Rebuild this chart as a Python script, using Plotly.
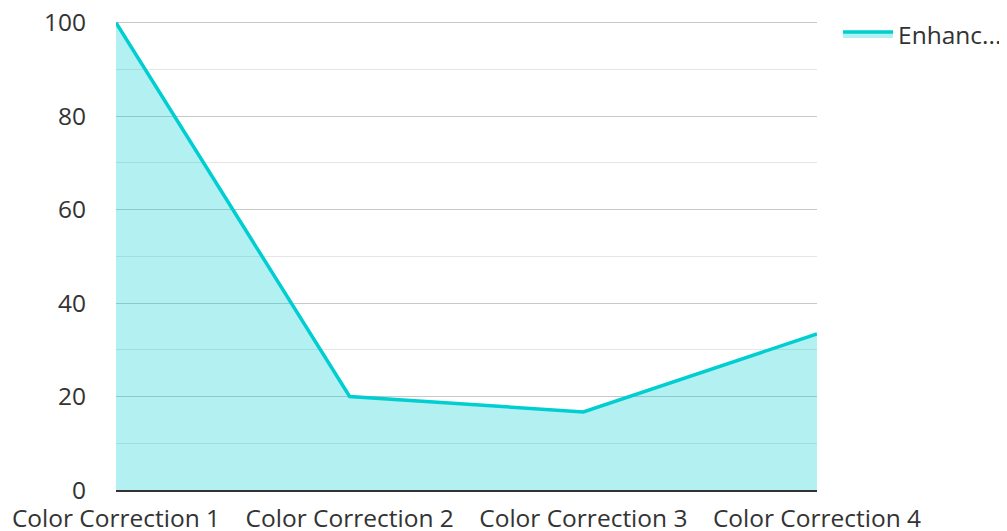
import plotly.graph_objects as go

categories = ["Color Correction 1", "Color Correction 2", "Color Correction 3", "Color Correction 4"]
values = [100, 20, 16.7, 33.4]
series_name = "Enhanc..."

fig = go.Figure()
fig.add_trace(go.Scatter(
    x=categories, y=values, name=series_name, mode="lines",
    line=dict(color="#00CED1", width=3.5),
    fill="tozeroy", fillcolor="rgba(0,206,209,0.3)",
    showlegend=True,
    cliponaxis=False,
))

fig.update_layout(
    width=999, height=523,
    margin=dict(l=108, r=190, t=13.4, b=41, autoexpand=False),
    paper_bgcolor="white", plot_bgcolor="white",
    font=dict(family="Open Sans", size=24.5, color="#333333"),
    showlegend=True,
    legend=dict(x=1.03, y=1.02, xanchor="left", yanchor="top",
                font=dict(size=24.5, color="#333333"), itemwidth=50),
    xaxis=dict(
        type="category", range=[0, 3], showgrid=False, automargin=False,
        showline=True, linecolor="#333333", linewidth=2,
        ticks="outside", ticklen=6, tickcolor="rgba(0,0,0,0)",
        tickfont=dict(size=24.5, color="#333333"),
    ),
    yaxis=dict(
        range=[0, 100.35], dtick=20, tick0=0, automargin=False,
        ticklabeloverflow="allow",
        showgrid=True, gridcolor="#c8c8c8", gridwidth=1,
        zeroline=False, showline=False,
        ticks="outside", ticklen=24, tickcolor="rgba(0,0,0,0)",
        tickfont=dict(size=24.5, color="#333333"),
        minor=dict(dtick=10, showgrid=True, gridcolor="#e6e6e6", gridwidth=1),
    ),
)

fig.write_html("out.html")
